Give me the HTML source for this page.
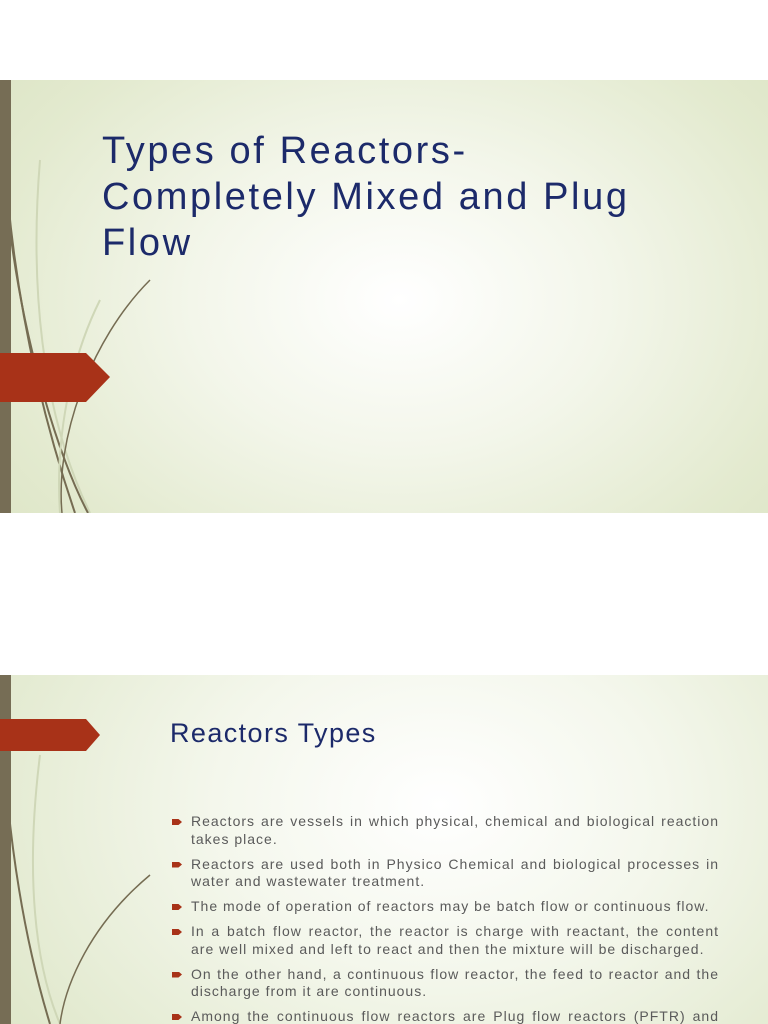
<!DOCTYPE html>
<html><head><meta charset="utf-8"><style>
body{margin:0;width:768px;height:1024px;background:#fff;position:relative;overflow:hidden;font-family:"Liberation Sans",sans-serif}
.s{position:absolute;left:0;width:768px;overflow:hidden}
#s1{top:80px;height:433px;background:radial-gradient(ellipse 520px 380px at 400px 220px,#ffffff 0%,#f3f6ea 40%,#e3eacf 80%,#dde5c6 100%)}
#s2{top:675px;height:349px;background:radial-gradient(ellipse 560px 420px at 440px 130px,#ffffff 0%,#f4f7ec 40%,#e4ebd2 80%,#dde5c6 100%)}
.bar{position:absolute;left:0;top:0;width:11px;height:100%;background:#766d55}
.t1{position:absolute;left:102px;top:48px;font-size:38px;line-height:46px;color:#1c2a6a;letter-spacing:2.6px}
.t2{position:absolute;left:170px;top:43px;font-size:27px;color:#1c2a6a;letter-spacing:1.4px}
ul{position:absolute;left:172px;top:138px;width:547px;margin:0;padding:0;list-style:none;font-size:14px;line-height:17.5px;color:#5a5a5a;letter-spacing:1px}
li{position:relative;padding-left:19px;text-align:justify;margin-bottom:7.5px}
li:before{content:"";position:absolute;left:0;top:6px;width:10px;height:6px;background:#a83218;clip-path:polygon(0 0,65% 0,100% 50%,65% 100%,0 100%)}
</style></head><body>
<div class="s" id="s1">
<svg width="768" height="433" style="position:absolute;left:0;top:0" fill="none">
<path d="M40 80 C30 200,40 330,90 433" stroke="#cfd7b7" stroke-width="2"/>
<path d="M8 120 C20 250,50 360,75 433" stroke="#756c52" stroke-width="2"/>
<path d="M10 150 C25 270,60 380,88 433" stroke="#756c52" stroke-width="2"/>
<path d="M150 200 C90 260,55 360,62 433" stroke="#756c52" stroke-width="1.5"/>
<path d="M100 220 C70 280,55 360,60 433" stroke="#cfd7b7" stroke-width="2"/>
</svg>
<div class="bar"></div>
<svg width="112" height="50" style="position:absolute;left:0;top:273px"><polygon points="0,0 86,0 110,24 86,49 0,49" fill="#a83218"/></svg>
<div class="t1">Types of Reactors-<br>Completely Mixed and Plug<br>Flow</div>
</div>
<div class="s" id="s2">
<svg width="768" height="349" style="position:absolute;left:0;top:0" fill="none">
<path d="M40 80 C25 200,35 290,60 349" stroke="#cfd7b7" stroke-width="2"/>
<path d="M8 130 C18 230,35 300,50 349" stroke="#756c52" stroke-width="2"/>
<path d="M150 200 C90 250,65 310,60 349" stroke="#756c52" stroke-width="1.5"/>
</svg>
<div class="bar"></div>
<svg width="102" height="33" style="position:absolute;left:0;top:44px"><polygon points="0,0 86,0 100,16 86,32 0,32" fill="#a83218"/></svg>
<div class="t2">Reactors Types</div>
<ul>
<li>Reactors are vessels in which physical, chemical and biological reaction takes place.</li>
<li>Reactors are used both in Physico Chemical and biological processes in water and wastewater treatment.</li>
<li>The mode of operation of reactors may be batch flow or continuous flow.</li>
<li>In a batch flow reactor, the reactor is charge with reactant, the content are well mixed and left to react and then the mixture will be discharged.</li>
<li>On the other hand, a continuous flow reactor, the feed to reactor and the discharge from it are continuous.</li>
<li>Among the continuous flow reactors are Plug flow reactors (PFTR) and completely mixed reactors.</li>
</ul>
</div>
</body></html>
